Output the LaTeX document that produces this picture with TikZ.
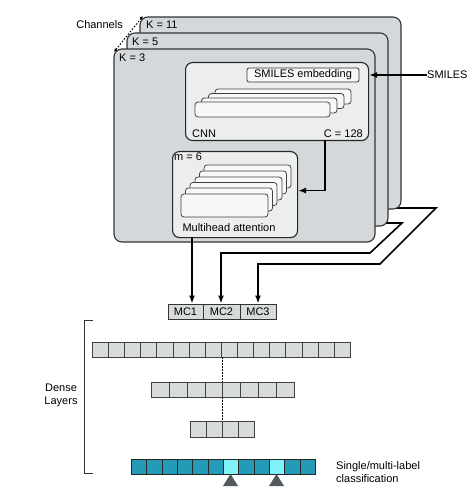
\documentclass[tikz,border=0pt]{standalone}
\usepackage{fontspec}
\setmainfont{Liberation Sans}
\usepackage{tikz}
\usetikzlibrary{arrows.meta}
\definecolor{panelgray}{RGB}{212,216,218}
\definecolor{boxgray}{RGB}{236,238,238}
\definecolor{cardwhite}{RGB}{248,248,248}
\definecolor{densegray}{RGB}{216,219,220}
\definecolor{outteal}{RGB}{36,154,182}
\definecolor{outcyan}{RGB}{128,242,250}
\definecolor{pointer}{RGB}{82,90,93}
\tikzset{
  panel/.style={draw=black!80, line width=1.1pt, fill=panelgray, rounded corners=8pt},
  inner box/.style={draw=black!85, line width=1.1pt, fill=boxgray, rounded corners=7pt},
  cardbox/.style={draw=black!75, line width=0.8pt, fill=cardwhite, rounded corners=3pt},
  densebox/.style={draw=black!75, line width=0.9pt, fill=densegray},
  outbox/.style={draw=black!85, line width=0.9pt},
  mcbox/.style={draw=black!80, line width=0.9pt, fill=densegray, minimum height=15pt, inner sep=0pt},
  lbl/.style={inner sep=0pt},
  conn/.style={line width=1.6pt, -{Latex[length=8pt,width=6pt]}},
}
\newcommand{\card}[4]{\draw[cardbox] (#1,#2) rectangle (#3,#4);}
\newcommand{\densecell}[4]{\draw[densebox] (#1,#2) rectangle (#3,#4);}
\newcommand{\outcell}[5]{\draw[outbox, fill=#5] (#1,#2) rectangle (#3,#4);}
\newcommand{\pointer}[1]{\fill[pointer] (#1,474) -- (#1-7.5,486) -- (#1+7.5,486) -- cycle;}
\begin{document}
\begin{tikzpicture}[x=1pt, y=-1pt, font=\fontsize{11}{13}\selectfont]
        \useasboundingbox (0,0) rectangle (474,489);

        % channel outputs (behind the panels)
        \coordinate (k5out) at (383,223);
        \coordinate (k11out) at (396,208);
        \node[mcbox, minimum width=35pt] (mc1) at (185.5,311.5) {MC1};
        \node[mcbox, minimum width=37pt] (mc2) at (221.5,311.5) {MC2};
        \node[mcbox, minimum width=36pt] (mc3) at (258,311.5) {MC3};
        \draw[conn] (k5out) -- (402,223) -- (370,253) -| ([xshift=-0.5pt]mc2.north);
        \draw[conn] (k11out) -- (436,208) -- (380,264) -| (mc3.north);

        % panels
        \draw[panel] (140,17) rectangle (401,209);
        \draw[panel] (127,33) rectangle (388,226);
        \draw[panel] (114,49) rectangle (375,242);
        \node[lbl, anchor=west] (k11) at (146,25) {K = 11};
        \node[lbl, anchor=west] (k5) at (132,41.5) {K = 5};
        \node[lbl, anchor=west] (k3) at (119,57.5) {K = 3};
        \node[lbl, anchor=east] (channels) at (123,25) {Channels};
        \coordinate (chlow) at (114,52);
        \coordinate (chhigh) at (143,16);
        \draw[line width=0.9pt, dash pattern=on 1.6pt off 1.6pt, {Latex[length=3.5pt,width=3.5pt]}-{Latex[length=3.5pt,width=3.5pt]}] (chlow) -- (chhigh);

        % CNN
        \node[inner box, minimum width=183pt, minimum height=78pt, anchor=north west] (cnn) at (185,62) {};
        \node[draw=black!80, line width=0.8pt, fill=cardwhite, rounded corners=2pt, minimum width=112pt, minimum height=14pt, inner sep=0pt] (embed) at (303,75) {SMILES embedding};
        \card{215}{89}{351}{104}
        \card{208.5}{93.5}{344}{108.5}
        \card{201.5}{98}{337}{113}
        \card{195}{102}{330}{117}
        \node[lbl, anchor=west] (cnnlab) at (192,134) {CNN};
        \node[lbl, anchor=east] (clab) at (363,134) {C = 128};

        % multihead attention
        \node[inner box, minimum width=125pt, minimum height=86pt, anchor=north west] (mha) at (172,151) {};
        \card{204}{165}{291}{188}
        \card{199.5}{171}{286.5}{194}
        \card{195}{177}{282}{200}
        \card{190}{182.5}{277}{205.5}
        \card{185.5}{188}{272.5}{211}
        \card{181}{194}{268}{217}
        \node[lbl, anchor=west] (mlab) at (174,157) {m = 6};
        \node[lbl] (mhalab) at (229,228) {Multihead attention};

        % arrows
        \node[lbl, anchor=west] (smiles) at (427,75) {SMILES};
        \coordinate (cnnout) at (325,140);
        \coordinate (mhaout) at (192,237);
        \draw[conn] (smiles.west) -- (cnn.east |- smiles.west);
        \draw[conn] (cnnout) |- ([yshift=4pt]mha.east);
        \draw[conn] (mhaout) -- (mhaout |- mc1.north);

        % dense layer 1
        \densecell{92}{342}{108}{357}
        \densecell{108}{342}{124}{357}
        \densecell{124}{342}{140}{357}
        \densecell{140}{342}{156}{357}
        \densecell{156}{342}{173}{357}
        \densecell{173}{342}{189}{357}
        \densecell{189}{342}{205}{357}
        \densecell{205}{342}{221}{357}
        \densecell{221}{342}{237}{357}
        \densecell{237}{342}{253}{357}
        \densecell{253}{342}{269}{357}
        \densecell{269}{342}{285}{357}
        \densecell{285}{342}{302}{357}
        \densecell{302}{342}{318}{357}
        \densecell{318}{342}{334}{357}
        \densecell{334}{342}{350}{357}
        % dense layer 2
        \densecell{151}{382}{169}{397}
        \densecell{169}{382}{187}{397}
        \densecell{187}{382}{205}{397}
        \densecell{205}{382}{222}{397}
        \densecell{222}{382}{240}{397}
        \densecell{240}{382}{258}{397}
        \densecell{258}{382}{276}{397}
        \densecell{276}{382}{294}{397}
        % dense layer 3
        \densecell{190}{421}{206}{437}
        \densecell{206}{421}{222}{437}
        \densecell{222}{421}{238}{437}
        \densecell{238}{421}{254}{437}
        % between layers
        \draw[line width=0.9pt, dash pattern=on 1.5pt off 1.5pt] (222,357) -- (222,382);
        \draw[line width=0.9pt, dash pattern=on 1.5pt off 1.5pt] (222,397) -- (222,421);

        % output layer
        \outcell{131}{459}{146}{474}{outteal}
        \outcell{146}{459}{162}{474}{outteal}
        \outcell{162}{459}{177}{474}{outteal}
        \outcell{177}{459}{192}{474}{outteal}
        \outcell{192}{459}{208}{474}{outteal}
        \outcell{208}{459}{223}{474}{outteal}
        \outcell{223}{459}{238}{474}{outcyan}
        \outcell{238}{459}{254}{474}{outteal}
        \outcell{254}{459}{269}{474}{outteal}
        \outcell{269}{459}{284}{474}{outcyan}
        \outcell{284}{459}{300}{474}{outteal}
        \outcell{300}{459}{315}{474}{outteal}
        \pointer{230.5}
        \pointer{276.5}

        % bracket and labels
        \draw[line width=0.9pt, black!80] (93,320) -- (84,320) -- (84,473) -- (93,473);
        \node[lbl, align=center] (dense) at (61,395) {Dense\\Layers};
        \node[lbl, align=left, anchor=west] (classif) at (336,472) {Single/multi-label\\classification};
\end{tikzpicture}
\end{document}
